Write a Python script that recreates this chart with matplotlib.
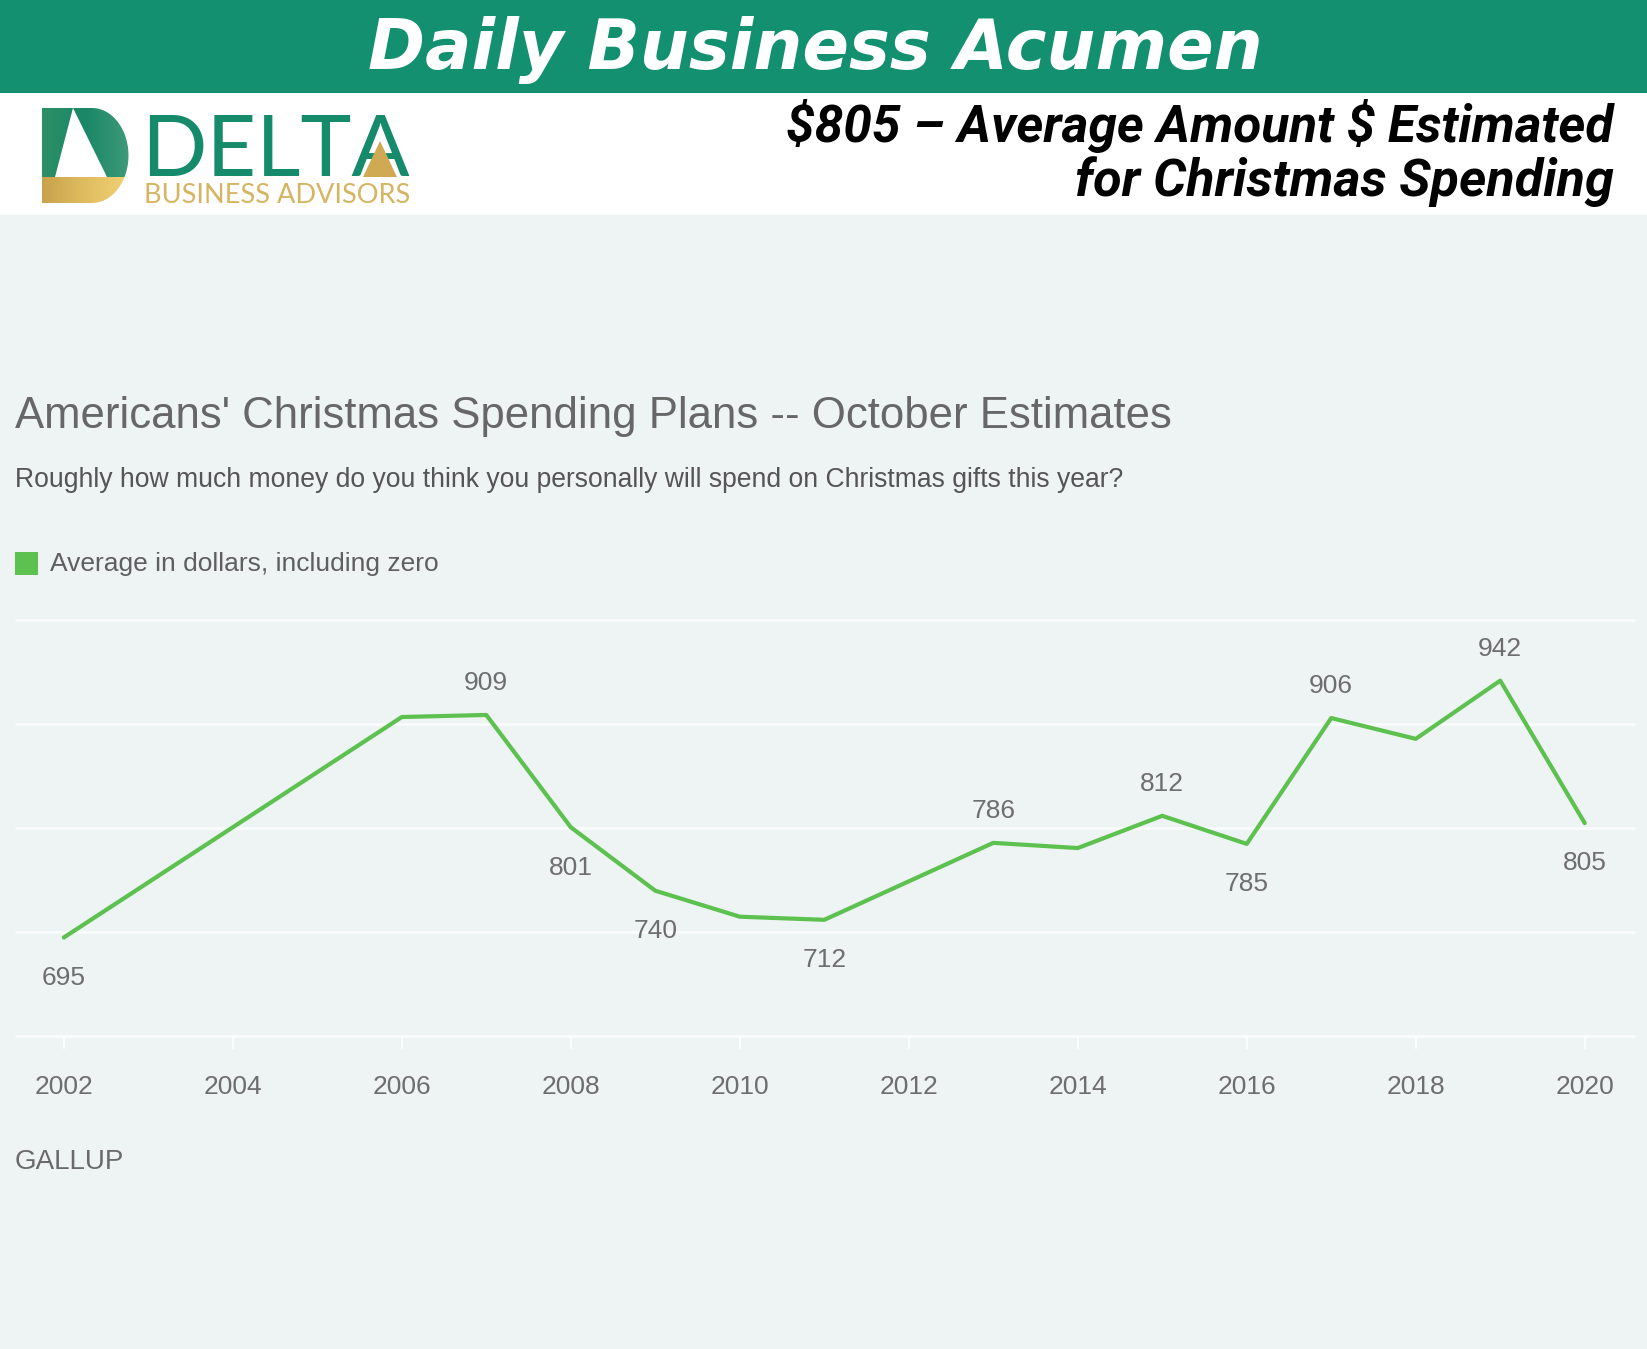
import matplotlib
matplotlib.use('Agg')
import matplotlib.pyplot as plt
import numpy as np
from matplotlib.patches import Rectangle, Polygon, PathPatch
from matplotlib.path import Path
from matplotlib.colors import LinearSegmentedColormap

# Gallup October estimates, average in dollars including zero
years = [2002, 2006, 2007, 2008, 2009, 2010, 2011, 2013, 2014, 2015, 2016, 2017, 2018, 2019, 2020]
spending = [695, 907, 909, 801, 740, 715, 712, 786, 781, 812, 785, 906, 886, 942, 805]
label_side = ['below', None, 'above', 'below', 'below', None, 'below', 'above', None,
              'above', 'below', 'above', None, 'above', 'below']
year_ticks = [2002, 2004, 2006, 2008, 2010, 2012, 2014, 2016, 2018, 2020]
grid_values = [600, 700, 800, 900, 1000]

W, H = 1647, 1349
BG = '#EEF3F4'
LINE = '#5CC14E'
HEADER = '#13906F'
TEAL = '#168B6C'
GOLD = '#D0AA52'

fig = plt.figure(figsize=(W / 100, H / 100), dpi=100, facecolor=BG)

# page furniture in pixel coordinates
bg = fig.add_axes([0, 0, 1, 1], zorder=0)
bg.set_xlim(0, W)
bg.set_ylim(H, 0)
bg.axis('off')
bg.add_patch(Rectangle((0, 0), W, 93, color=HEADER, lw=0))
bg.add_patch(Rectangle((0, 93), W, 122, color='white', lw=0))

bg.text(815, 69, 'Daily Business Acumen', ha='center', va='baseline', color='white',
        fontsize=49.5, fontweight='bold', fontstyle='italic', family='DejaVu Sans')
bg.text(1614, 142, '\\$805 \u2013 Average Amount \\$ Estimated', ha='right',
        va='baseline', color='black', fontsize=37, fontweight='bold', fontstyle='italic', family='Roboto')
bg.text(1614, 196, 'for Christmas Spending', ha='right', va='baseline',
        color='black', fontsize=37.5, fontweight='bold', fontstyle='italic', family='Roboto')

# logo mark
t = np.linspace(np.pi / 2, -np.pi / 2, 40)
d_verts = [(42, 108), (92, 108)] + list(zip(92 + 36.5 * np.cos(t), 155.5 - 47.5 * np.sin(t))) + [(42, 203), (42, 108)]
clip = PathPatch(Path(d_verts), transform=bg.transData, facecolor='none', edgecolor='none')
bg.add_patch(clip)
grad = np.linspace(0, 1, 100).reshape(1, -1)
green_img = bg.imshow(grad, extent=(42, 129, 177, 108), aspect='auto', zorder=3,
                      cmap=LinearSegmentedColormap.from_list('g', ['#2C8F68', '#1A8766', '#3E9A7A']))
green_img.set_clip_path(clip)
gold_img = bg.imshow(grad, extent=(42, 129, 204, 177), aspect='auto', zorder=3,
                     cmap=LinearSegmentedColormap.from_list('y', ['#C9A24C', '#E0BD60', '#F0D273']))
gold_img.set_clip_path(clip)
bg.add_patch(Polygon([(73, 108), (55, 177), (107, 177)], closed=True, color='white', lw=0, zorder=4))
bg.set_xlim(0, W)
bg.set_ylim(H, 0)

bg.text(141, 176, 'DELTA', ha='left', va='baseline', color=TEAL, fontsize=62,
        fontweight='normal', family='Lato')
bg.add_patch(Polygon([(380, 141), (363, 177), (397, 177)], closed=True, color=GOLD, lw=0, zorder=4))
bg.text(144, 203, 'BUSINESS ADVISORS', ha='left', va='baseline', color='#D6B462', fontsize=19.5,
        fontweight='normal', family='Lato')

# chart texts
bg.text(15, 428, "Americans' Christmas Spending Plans -- October Estimates", ha='left', va='baseline',
        color='#676767', fontsize=31.5, family='Liberation Sans')
bg.text(15, 487, 'Roughly how much money do you think you personally will spend on Christmas gifts this year?',
        ha='left', va='baseline', color='#555555', fontsize=19.1, family='Liberation Sans')
bg.add_patch(Rectangle((15, 552), 23, 23, color=LINE, lw=0))
bg.text(50, 571, 'Average in dollars, including zero', ha='left', va='baseline',
        color='#5F5F5F', fontsize=19, family='Liberation Sans')
bg.text(15, 1169, 'GALLUP', ha='left', va='baseline', color='#6A6A6A', fontsize=20,
        family='Liberation Sans')

# chart
ax = fig.add_axes([15 / W, 1 - 1036.3 / H, 1620 / W, 416 / H], zorder=2)
ax.set_facecolor('none')
ax.set_xlim(2001.422, 2020.595)
ax.set_ylim(600, 1000)
for s in ax.spines.values():
    s.set_visible(False)
ax.hlines(grid_values, 2001.422, 2020.595, color='#FAFCFC', lw=2, clip_on=False, zorder=1)
ax.plot(years, spending, color=LINE, lw=3, solid_joinstyle='round', solid_capstyle='round', zorder=3)

for x, v, side in zip(years, spending, label_side):
    if side is None:
        continue
    dy = 23 if side == 'above' else -29
    ax.annotate(str(v), (x, v), xytext=(0, dy), textcoords='offset points', ha='center', va='center',
                color='#6E6E6E', fontsize=19, family='Liberation Sans')

ax.set_yticks([])
ax.set_xticks(year_ticks)
ax.set_xticklabels([str(y) for y in year_ticks], color='#6E6E6E', fontsize=19, family='Liberation Sans')
ax.tick_params(axis='x', length=9, width=1.5, color='#FAFCFC', pad=19)

plt.savefig('out.png', dpi=100, facecolor=BG)
